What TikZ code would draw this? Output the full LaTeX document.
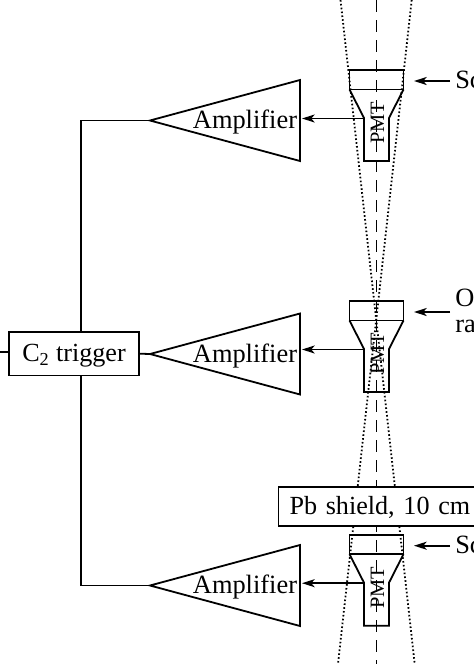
\documentclass[tikz,border=0pt]{standalone}
\usepackage{fontspec}
\setmainfont{Liberation Serif}
\usepackage{tikz}
\usetikzlibrary{arrows.meta, positioning, calc}
\tikzset{
  txt/.style={font=\fontsize{19.8}{22}\selectfont, inner sep=0pt},
  pmttxt/.style={font=\fontsize{15.3}{17}\selectfont, inner sep=0pt, rotate=90},
  box/.style={draw, line width=1.35pt, fill=white, font=\fontsize{19.6}{22}\selectfont, inner sep=0pt},
  wire/.style={line width=1.35pt},
  arr/.style={-{Stealth[length=9.5pt, width=6pt, inset=2.5pt]}, line width=1.2pt},
  axis/.style={line width=1.3pt, dash pattern=on 9pt off 6pt},
  beam/.style={line width=1.35pt, dash pattern=on 1.2pt off 1.7pt},
}
\tikzset{amppic/.pic={
  \coordinate (tip) at (0,0);
  \coordinate (back) at (152,0);
  \draw[wire, line join=miter] (0,0) -- (150,-40.5) -- (150,40.5) -- cycle;
  \node[txt] (label) at (95,2) {Amplifier};
}}
\tikzset{pmtpic/.pic={
  \coordinate (out) at (-12.5,48.5);
  \coordinate (in) at (37.5,11);
  \coordinate (tail) at (73.5,11);
  \draw[wire] (-27,0) rectangle (27,19.5);
  \draw[wire] (-27,19.5) -- (-12.5,48) -- (-12.5,91) -- (12.5,91) -- (12.5,48) -- (27,19.5);
  \node[pmttxt] (label) at (1,53) {PMT};
}}
\begin{document}
\begin{tikzpicture}[x=0.75pt, y=-0.75pt]
\useasboundingbox (0,0) rectangle (474,664);

% Beam lines
\coordinate (axistop) at (376.5,0);
\coordinate (axisbot) at (376.5,664);
\coordinate (beamatop) at (340.5,0);
\coordinate (beamabot) at (414.7,664);
\coordinate (beambtop) at (411.7,0);
\coordinate (beambbot) at (338,664);
\draw[beam] (beamatop) -- (beamabot);
\draw[beam] (beambtop) -- (beambbot);
\draw[axis] (axistop) -- (axisbot);

% Photomultipliers
\pic (pmta) at (376.5,70) {pmtpic};
\pic (pmtb) at (376.5,301) {pmtpic};
\pic (pmtc) at (376.5,534.7) {pmtpic};

% Amplifiers
\pic (ampa) at (150,120.5) {amppic};
\pic (ampb) at (150,354) {amppic};
\pic (ampc) at (150,585.5) {amppic};

% Trigger and shield
\node[box, minimum width=130pt*0.75, minimum height=43.5pt*0.75, text height=16.3pt, text depth=4.3pt] (trigger) at (74,353.7) {C\textsubscript{2} trigger};
\node[box, minimum height=39.5pt*0.75, minimum width=240pt*0.75, text width=218pt*0.75, text height=15.5pt, text depth=3.3pt, align=left] (shield) at (398.5,506.5) {Pb shield, 10 cm};

% Side labels
\node[txt, anchor=base west] (lbla) at (455,88.3) {Sc};
\node[txt, anchor=base west] (lblb) at (455,306) {O};
\node[txt, anchor=base west] (lblbb) at (455,332) {ra};
\node[txt, anchor=base west] (lblc) at (455,553) {Sc};

% Connections
\coordinate (bendtop) at (81,120.5);
\coordinate (bendbot) at (81,585.5);
\coordinate (leftend) at (0,352);
\draw[wire] (ampatip) -- (bendtop) -- (bendtop |- trigger.north);
\draw[wire] (ampctip) -- (bendbot) -- (bendbot |- trigger.south);
\draw[wire] (trigger.east) -- (ampbtip);
\draw[wire] (leftend) -- (leftend -| trigger.west);

\draw[arr] (pmtaout) -- (pmtaout -| ampaback);
\draw[arr] (pmtbout) -- (pmtbout -| ampbback);
\draw[arr] (pmtcout) -- (pmtcout -| ampcback);

\draw[arr] (pmtatail) -- (pmtain);
\draw[arr] (pmtbtail) -- (pmtbin);
\draw[arr] (pmtctail) -- (pmtcin);

\end{tikzpicture}
\end{document}
